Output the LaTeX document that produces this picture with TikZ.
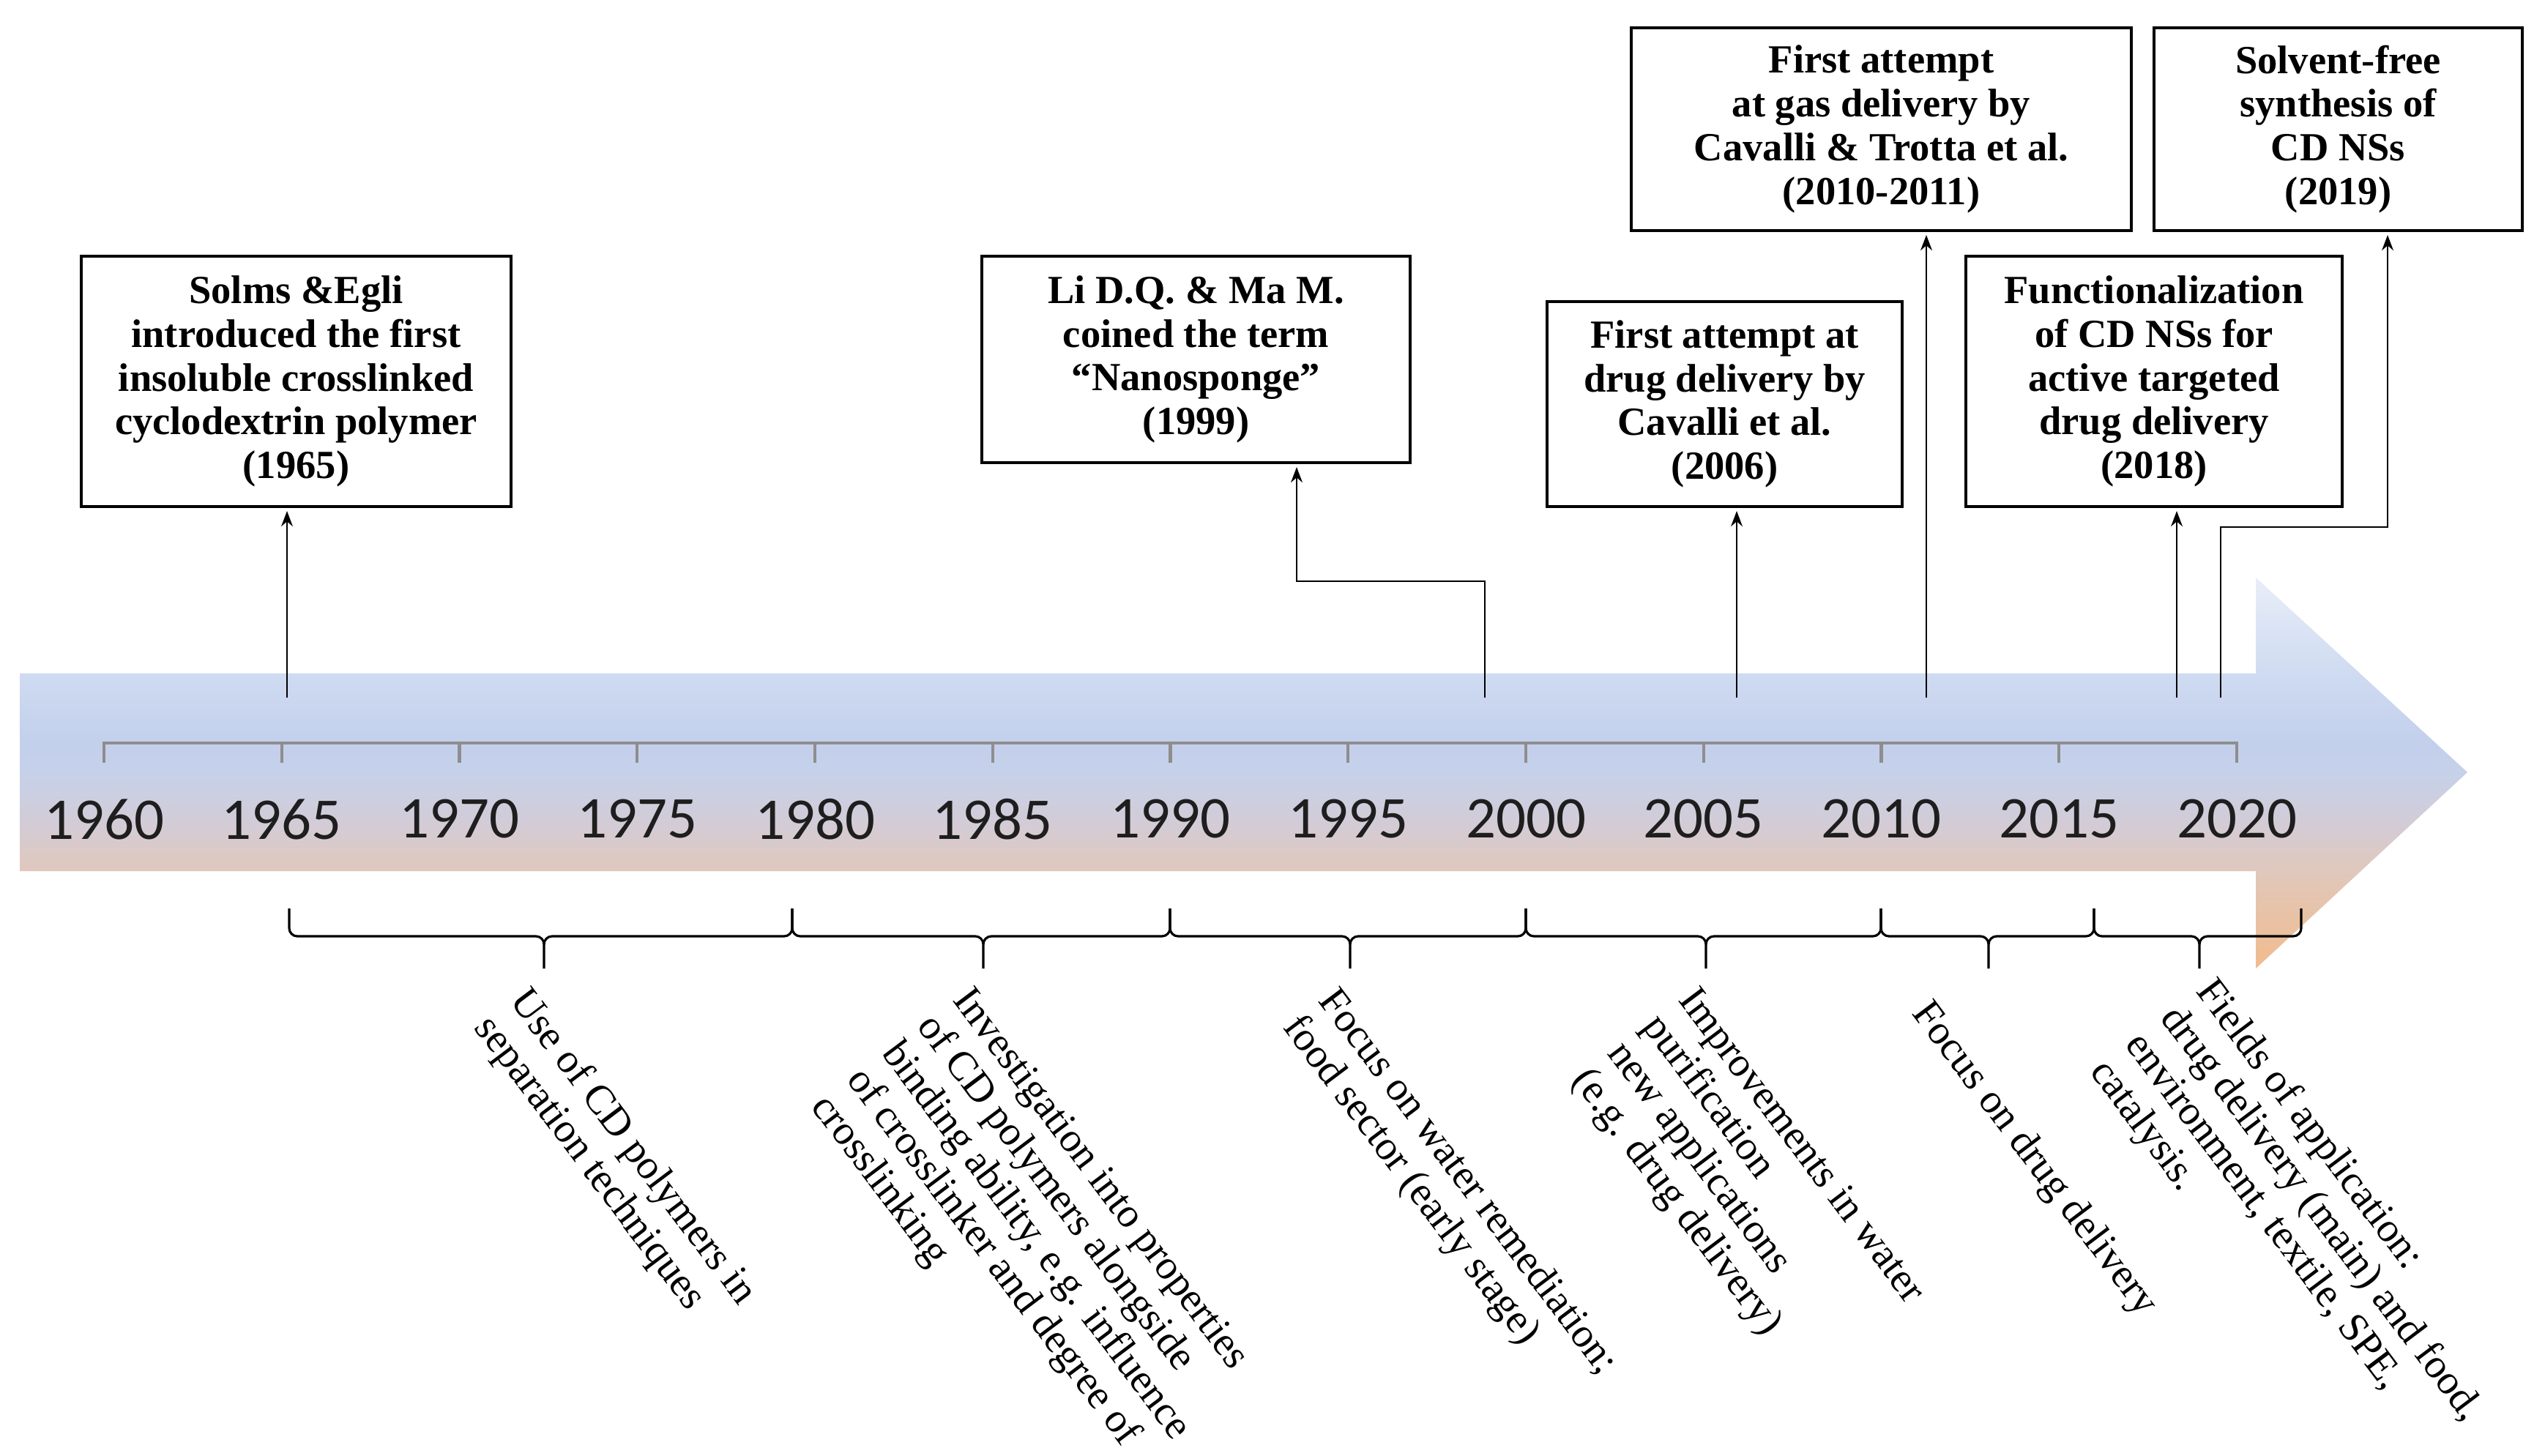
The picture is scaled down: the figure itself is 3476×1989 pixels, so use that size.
\documentclass[tikz,border=0pt]{standalone}
\usepackage{fontspec}
\setmainfont{Liberation Serif}
\newfontfamily\yearfont{Carlito}
\newfontfamily\boxfont{Liberation Serif}
\newfontfamily\labfont{Liberation Serif}
\usetikzlibrary{arrows.meta}
\definecolor{cA}{HTML}{F2BB8C}
\definecolor{cB}{HTML}{E0C8BC}
\definecolor{cC}{HTML}{D2CCD8}
\definecolor{cD}{HTML}{C6D1E9}
\definecolor{cE}{HTML}{C3D0EC}
\definecolor{cF}{HTML}{CFDBF1}
\definecolor{cG}{HTML}{E8EEF8}
\definecolor{tickgray}{HTML}{8E8E8E}
\definecolor{yeartext}{HTML}{1E1E1E}
\pgfdeclareverticalshading{arrowshade}{100bp}{color(0bp)=(cA); color(25bp)=(cA); color(37.5bp)=(cB); color(44bp)=(cC); color(50bp)=(cD); color(54bp)=(cE); color(62.7bp)=(cF); color(75bp)=(cG); color(100bp)=(cG)}
\tikzset{
  tbox/.style={draw=black, line width=1pt, fill=white, align=center, inner sep=2pt,
    font=\boxfont\bfseries\fontsize{15.5}{17}\selectfont},
  conn/.style={line width=0.65pt, -{Stealth[length=6pt,width=4.5pt]}, shorten >=1.2pt},
  lab/.style={align=left, rotate=-53, anchor=north west, inner sep=0pt,
    font=\labfont\fontsize{16}{17.2}\selectfont},
  yearlab/.style={font=\yearfont\fontsize{23}{26}\selectfont, text=yeartext, inner sep=0pt},
  axisline/.style={draw=tickgray, line width=1.2pt},
  bracestyle/.style={draw=black, line width=0.9pt}
}
\newcommand\tlbrace[3]{%
  \draw[bracestyle] (#1,1241) -- (#1,1268) to[out=-90,in=180] (#1+11,1279) -- (#2-11,1279) to[out=0,in=90] (#2,1290) -- (#2,1323);
  \draw[bracestyle] (#2,1290) to[out=90,in=180] (#2+11,1279) -- (#3-11,1279) to[out=0,in=-90] (#3,1268) -- (#3,1241);}
\begin{document}
\begin{tikzpicture}[x=0.01cm,y=-0.01cm]
\useasboundingbox (0,0) rectangle (3476,1989);
% big arrow
\path[shading=arrowshade] (27,920) -- (3081,920) -- (3081,789) -- (3370,1055) -- (3081,1323) -- (3081,1190) -- (27,1190) -- cycle;
% axis
\draw[axisline] (142,1042) -- (142,1015) -- (3055,1015) -- (3055,1042);
\foreach \i in {1,...,11}{
  \draw[axisline] ({142+242.75*\i},1015) -- ({142+242.75*\i},1042);
}
\foreach \i in {0,...,12}{
  \pgfmathtruncatemacro\yr{1960+5*\i}
  \node[yearlab] (yr\i) at ({142+242.75*\i},1119) {\yr};
}
% boxes
\node[tbox, minimum width=5.87cm, minimum height=3.42cm] (b1) at (404.5,521)
  {Solms \&Egli\\introduced the first\\insoluble crosslinked\\cyclodextrin polymer\\(1965)};
\node[tbox, minimum width=5.85cm, minimum height=2.82cm] (b2) at (1633.5,491)
  {Li D.Q. \& Ma M.\\coined the term\\“Nanosponge”\\(1999)};
\node[tbox, minimum width=4.85cm, minimum height=2.80cm] (b3) at (2355.5,552)
  {First attempt at\\drug delivery by\\Cavalli et al.\\(2006)};
\node[tbox, minimum width=6.83cm, minimum height=2.77cm] (b4) at (2569.5,176.5)
  {First attempt\\at gas delivery by\\Cavalli \& Trotta et al.\\(2010-2011)};
\node[tbox, minimum width=5.14cm, minimum height=3.42cm] (b5) at (2942,521)
  {Functionalization\\of CD NSs for\\active targeted\\drug delivery\\(2018)};
\node[tbox, minimum width=5.03cm, minimum height=2.77cm] (b6) at (3193.5,176.5)
  {Solvent-free\\synthesis of\\CD NSs\\(2019)};
% connector start points
\coordinate (s1) at (392,953);
\coordinate (s2) at (2028,953);
\coordinate (e2) at (1771,794);
\coordinate (s3) at (2372,953);
\coordinate (s4) at (2631,953);
\coordinate (s5) at (2973,953);
\coordinate (s6) at (3033,953);
\coordinate (e6) at (3261,720);
\draw[conn] (s1) -- (s1 |- b1.south);
\draw[conn] (s2) |- (e2) -- (e2 |- b2.south);
\draw[conn] (s3) -- (s3 |- b3.south);
\draw[conn] (s4) -- (s4 |- b4.south);
\draw[conn] (s5) -- (s5 |- b5.south);
\draw[conn] (s6) |- (e6) -- (e6 |- b6.south);
% braces
\tlbrace{395}{743}{1082}
\tlbrace{1082}{1343}{1598}
\tlbrace{1598}{1844}{2084}
\tlbrace{2084}{2330}{2569}
\tlbrace{2569}{2716}{2860}
\tlbrace{2860}{3004}{3143}
% rotated labels
\node[lab] (t1) at (727,1343) {Use of CD polymers in\\separation techniques};
\node[lab] (t2) at (1330,1343) {Investigation into properties\\of CD polymers alongside\\binding ability, e.g. influence\\of crosslinker and degree of\\crosslinking};
\node[lab] (t3) at (1831,1343) {Focus on water remediation;\\food sector (early stage)};
\node[lab] (t4) at (2321,1343) {Improvements in water\\purification\\new applications\\(e.g. drug delivery)};
\node[lab] (t5) at (2642,1360) {Focus on drug delivery};
\node[lab] (t6) at (3030,1330) {Fields of application:\\drug delivery (main) and food,\\environment, textile, SPE,\\catalysis.};
\end{tikzpicture}
\end{document}
